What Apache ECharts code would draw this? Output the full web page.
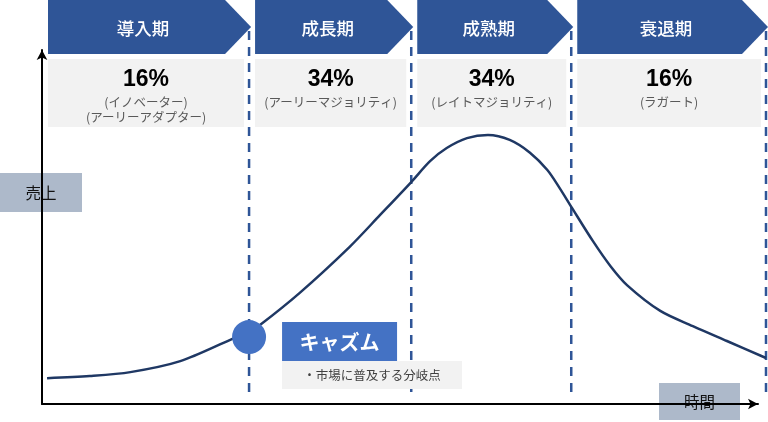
<!DOCTYPE html>
<html><head><meta charset="utf-8">
<script src="https://cdn.jsdelivr.net/npm/echarts@6/dist/echarts.min.js"></script>
<style>html,body{margin:0;padding:0;background:#fff}#c{width:768px;height:422px}</style>
</head><body><div id="c"></div>
<script>
const phaseNames = ['導入期', '成長期', '成熟期', '衰退期'];
const phaseShares = ['16%', '34%', '34%', '16%'];
const phaseGroups = ['(イノベーター)\n(アーリーアダプター)', '(アーリーマジョリティ)', '(レイトマジョリティ)', '(ラガート)'];
const phaseBounds = [0, 28.6, 51.0, 73.1, 100];
const salesX = [0.7, 6.6, 12.2, 19.1, 26.0, 28.6, 30.1, 35.6, 42.5, 46.7, 51.0, 53.6, 55.9, 58.7, 61.6, 64.6, 67.4, 69.8, 71.5, 73.2, 76.1, 78.5, 80.8, 85.4, 89.9, 94.6, 100];
const salesY = [7.3, 7.9, 9.0, 12.1, 18.1, 20.4, 22.3, 31.4, 44.4, 53.4, 62.7, 68.6, 72.3, 75.1, 76.0, 74.6, 71.0, 66.1, 61.0, 55.4, 46.0, 39.0, 33.6, 26.3, 22.0, 17.8, 13.0];
const chasmPoint = [28.6, 18.9];
const chasmTitle = 'キャズム';
const chasmNote = '・市場に普及する分岐点';
const yAxisLabel = '売上';
const xAxisLabel = '時間';

const JP = '"Noto Sans CJK JP", "Noto Sans", sans-serif';
const BLUE = '#2f5597';

const chart = echarts.init(document.getElementById('c'), null, {renderer: 'canvas'});

const phaseData = phaseNames.map((n, i) => [phaseBounds[i], phaseBounds[i + 1], i]);

function renderPhase(params, api) {
  const i = api.value(2);
  const x0 = api.coord([api.value(0), 0])[0];
  const x1 = api.coord([api.value(1), 0])[0];
  const l = x0 + 6, r = x1 + 2, tip = 26;
  const bl = l, br = x1 - 5;
  const bc = (bl + br) / 2;
  return {
    type: 'group',
    children: [
      {type: 'line', shape: {x1: x1, y1: 31, x2: x1, y2: 392},
       style: {stroke: BLUE, lineWidth: 2.5, lineDash: [9, 7]}},
      {type: 'polygon', shape: {points: [[l, 0], [r - tip, 0], [r, 27], [r - tip, 54], [l, 54]]},
       style: {fill: BLUE}},
      {type: 'text', x: (l + r - 13) / 2, y: 28,
       style: {text: phaseNames[i], fill: '#fff', font: '500 17.5px ' + JP, align: 'center', verticalAlign: 'middle'}},
      {type: 'rect', shape: {x: bl, y: 59, width: br - bl, height: 68}, style: {fill: '#f2f2f2'}},
      {type: 'text', x: bc, y: 80,
       style: {text: phaseShares[i], fill: '#000', font: 'bold 23px "Liberation Sans", Arial, sans-serif', align: 'center', verticalAlign: 'middle'}},
      {type: 'text', x: bc, y: 95,
       style: {text: phaseGroups[i], fill: '#595959', font: '12.5px ' + JP, align: 'center', verticalAlign: 'top', lineHeight: 15}}
    ]
  };
}

function renderChasm(params, api) {
  const p = api.coord([api.value(0), api.value(1)]);
  const x = p[0] + 33;
  return {
    type: 'group',
    children: [
      {type: 'rect', shape: {x: x, y: p[1] - 15, width: 115, height: 39}, style: {fill: '#4472c4'}},
      {type: 'text', x: x + 57.5, y: p[1] + 5,
       style: {text: chasmTitle, fill: '#fff', font: 'bold 20px ' + JP, align: 'center', verticalAlign: 'middle'}},
      {type: 'rect', shape: {x: x, y: p[1] + 24, width: 180, height: 28}, style: {fill: '#f2f2f2'}},
      {type: 'text', x: x + 90, y: p[1] + 38,
       style: {text: chasmNote, fill: '#404040', font: '12.5px ' + JP, align: 'center', verticalAlign: 'middle'}}
    ]
  };
}

const option = {
  backgroundColor: '#fff',
  animation: false,
  grid: [
    {left: 42, right: 2, top: 50, bottom: 18, containLabel: false},
    {left: 42, right: 10, top: 50, bottom: 18, containLabel: false}
  ],
  xAxis: [
    {type: 'value', gridIndex: 0, min: 0, max: 100, show: false},
    {type: 'value', gridIndex: 1, min: 0, max: 100,
     axisLine: {show: true, onZero: false, lineStyle: {color: '#000', width: 2}, symbol: ['none', 'arrow'], symbolSize: [8, 10]},
     axisTick: {show: false}, axisLabel: {show: false}, splitLine: {show: false}}
  ],
  yAxis: [
    {type: 'value', gridIndex: 0, min: 0, max: 100,
     axisLine: {show: true, onZero: false, lineStyle: {color: '#000', width: 2}, symbol: ['none', 'arrow'], symbolSize: [8, 10]},
     axisTick: {show: false}, axisLabel: {show: false}, splitLine: {show: false}},
    {type: 'value', gridIndex: 1, min: 0, max: 100, show: false}
  ],
  graphic: [
    {type: 'group', z: 100, children: [
      {type: 'rect', shape: {x: 0, y: 173, width: 82, height: 39}, style: {fill: '#adb9ca'}},
      {type: 'text', x: 41, y: 193, style: {text: yAxisLabel, fill: '#111', font: '15.5px ' + JP, align: 'center', verticalAlign: 'middle'}},
      {type: 'rect', shape: {x: 659, y: 383, width: 81, height: 37}, style: {fill: '#adb9ca'}},
      {type: 'text', x: 699.5, y: 402, style: {text: xAxisLabel, fill: '#111', font: '15.5px ' + JP, align: 'center', verticalAlign: 'middle'}}
    ]}
  ],
  series: [
    {type: 'custom', xAxisIndex: 0, yAxisIndex: 0, data: phaseData, renderItem: renderPhase, z: 1, clip: false,
     encode: {x: [0, 1]}, silent: true},
    {type: 'line', xAxisIndex: 0, yAxisIndex: 0, data: salesX.map((x, i) => [x, salesY[i]]),
     smooth: 0.3, showSymbol: false, symbol: 'none', clip: false, z: 3,
     lineStyle: {color: '#1f3864', width: 2.5}},
    {type: 'scatter', xAxisIndex: 0, yAxisIndex: 0, data: [chasmPoint], symbolSize: 34, z: 4,
     itemStyle: {color: '#4472c4', opacity: 1}},
    {type: 'custom', xAxisIndex: 0, yAxisIndex: 0, data: [chasmPoint], renderItem: renderChasm, z: 5, clip: false}
  ]
};
chart.setOption(option);
</script>
</body></html>
